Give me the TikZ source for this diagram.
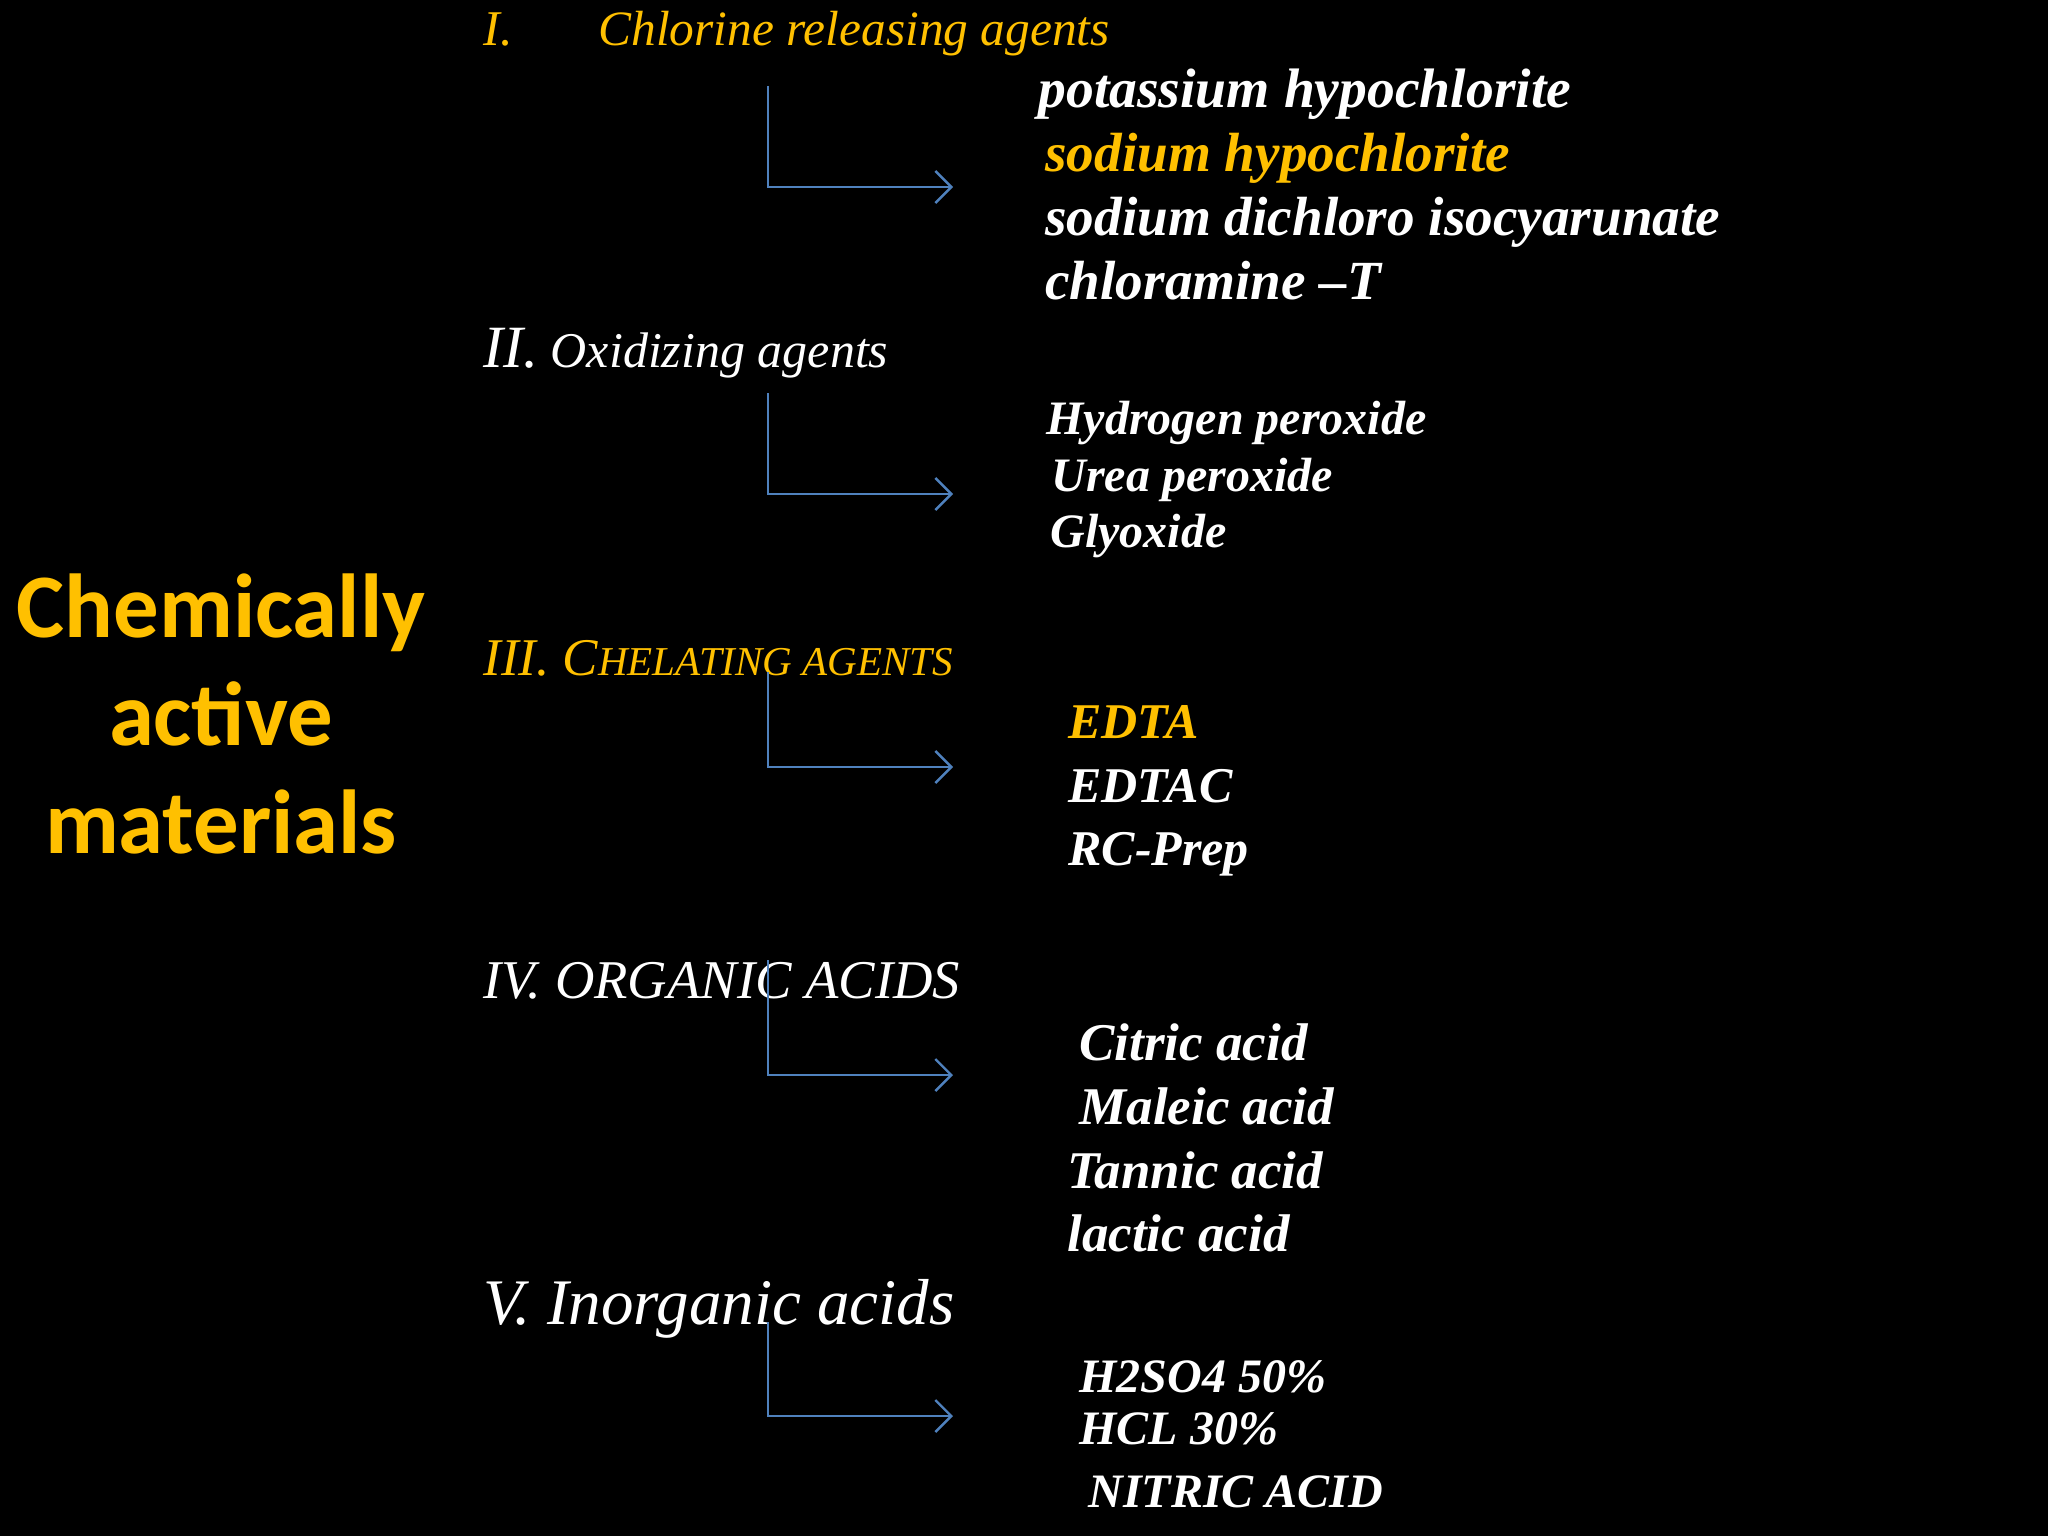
\documentclass[tikz,border=0pt]{standalone}
\usepackage{fontspec}
\setmainfont{Liberation Serif}
\newfontfamily\titlefont{Carlito}
\usetikzlibrary{arrows.meta}
\definecolor{gold}{RGB}{255,192,0}
\definecolor{arrowblue}{RGB}{79,129,189}
\newcommand\fsz[1]{\fontsize{#1}{#1}\selectfont}
\tikzset{
  txt/.style={anchor=base west, inner sep=0pt, text=white},
  hdr/.style={txt, font=\itshape},
  itm/.style={txt, font=\bfseries\itshape},
  goldtxt/.style={text=gold},
  conn/.style={draw=arrowblue, line width=1.2pt, -{Straight Barb[length=8pt,width=16pt]}},
}
\begin{document}
\begin{tikzpicture}[x=0.5pt,y=-0.5pt]
\fill[black] (0,0) rectangle (2048,1536);
\useasboundingbox (0,0) rectangle (2048,1536);

% title
\node[inner sep=0pt, text=gold, align=center, font=\titlefont\bfseries\fontsize{45.4}{54}\selectfont] (title) at (221,714) {Chemically\\active\\materials};

% I
\node[hdr, goldtxt, font=\itshape\fsz{25}] (h1num) at (483,46) {I.};
\node[hdr, goldtxt, font=\itshape\fsz{24.7}] (h1) at (598,46) {Chlorine releasing agents};
\node[itm, font=\bfseries\itshape\fsz{27.8}] (i1a) at (1038,107) {potassium hypochlorite};
\node[itm, goldtxt, font=\bfseries\itshape\fsz{27.6}] (i1b) at (1045,171) {sodium hypochlorite};
\node[itm, font=\bfseries\itshape\fsz{27.6}] (i1c) at (1045,235) {sodium dichloro isocyarunate};
\node[itm, font=\bfseries\itshape\fsz{27.6}] (i1d) at (1045,299) {chloramine --T};
\coordinate (a1s) at (768,86);
\coordinate (a1e) at (953,187);
\draw[conn] (a1s) |- (a1e);

% II
\node[hdr, font=\itshape\fsz{25}] (h2) at (483,367) {{\fsz{30}II.} Oxidizing agents};
\node[itm, font=\bfseries\itshape\fsz{24}] (i2a) at (1046,434) {Hydrogen peroxide};
\node[itm, font=\bfseries\itshape\fsz{24}] (i2b) at (1051,491) {Urea peroxide};
\node[itm, font=\bfseries\itshape\fsz{24}] (i2c) at (1050,547) {Glyoxide};
\coordinate (a2s) at (768,393);
\coordinate (a2e) at (953,494);
\draw[conn] (a2s) |- (a2e);

% III
\node[hdr, goldtxt, font=\itshape\fsz{26.5}] (h3) at (483,675) {III. C{\fsz{20.5}HELATING AGENTS}};
\node[itm, goldtxt, font=\bfseries\itshape\fsz{25}] (i3a) at (1068,738) {EDTA};
\node[itm, font=\bfseries\itshape\fsz{25}] (i3b) at (1068,802) {EDTAC};
\node[itm, font=\bfseries\itshape\fsz{25}] (i3c) at (1068,865) {RC-Prep};
\coordinate (a3s) at (768,672);
\coordinate (a3e) at (953,767);
\draw[conn] (a3s) |- (a3e);

% IV
\node[hdr, font=\itshape\fsz{27.3}] (h4) at (483,998) {IV. ORGANIC ACIDS};
\node[itm, font=\bfseries\itshape\fsz{26.5}] (i4a) at (1079,1060) {Citric acid};
\node[itm, font=\bfseries\itshape\fsz{26.5}] (i4b) at (1079,1124) {Maleic acid};
\node[itm, font=\bfseries\itshape\fsz{26.5}] (i4c) at (1067,1188) {Tannic acid};
\node[itm, font=\bfseries\itshape\fsz{26.5}] (i4d) at (1067,1251) {lactic acid};
\coordinate (a4s) at (768,960);
\coordinate (a4e) at (953,1075);
\draw[conn] (a4s) |- (a4e);

% V
\node[hdr, font=\itshape\fsz{32.5}] (h5) at (483,1324) {V. Inorganic acids};
\node[itm, font=\bfseries\itshape\fsz{24}] (i5a) at (1079,1392) {H2SO4 50\%};
\node[itm, font=\bfseries\itshape\fsz{24}] (i5b) at (1079,1444) {HCL 30\%};
\node[itm, font=\bfseries\itshape\fsz{24}] (i5c) at (1088,1507) {NITRIC ACID};
\coordinate (a5s) at (768,1322);
\coordinate (a5e) at (953,1416);
\draw[conn] (a5s) |- (a5e);
\end{tikzpicture}
\end{document}
